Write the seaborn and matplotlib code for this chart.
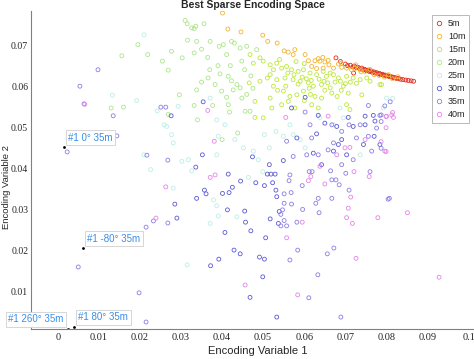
import matplotlib
matplotlib.use('Agg')
import matplotlib.pyplot as plt
import seaborn as sns
import pandas as pd
from matplotlib.lines import Line2D

# --- data (Encoding Variable 1, Encoding Variable 2) ---
groups = ['5m', '10m', '15m', '20m', '25m', '30m', '35m', '40m']
colors = ['#e02a1a', '#f4b430', '#bde83a', '#ace68c', '#bdeee8', '#5a5ad4', '#8c7ee4', '#e486e8']

pts_5m = [(0.0677, 0.0669), (0.0688, 0.0660), (0.0700, 0.0654), (0.0705, 0.0650), (0.0712, 0.0651),
          (0.0718, 0.0647), (0.0722, 0.0649), (0.0727, 0.0645), (0.0731, 0.0646), (0.0735, 0.0642),
          (0.0740, 0.0644), (0.0743, 0.0640), (0.0747, 0.0641), (0.0751, 0.0638), (0.0755, 0.0639),
          (0.0758, 0.0636), (0.0762, 0.0637), (0.0765, 0.0634), (0.0769, 0.0635), (0.0772, 0.0632),
          (0.0776, 0.0633), (0.0779, 0.0630), (0.0783, 0.0631), (0.0786, 0.0628), (0.0790, 0.0629),
          (0.0793, 0.0627), (0.0797, 0.0627), (0.0800, 0.0625), (0.0804, 0.0625), (0.0808, 0.0623),
          (0.0812, 0.0623), (0.0816, 0.0621), (0.0820, 0.0621), (0.0824, 0.0619), (0.0829, 0.0619),
          (0.0834, 0.0617), (0.0840, 0.0616), (0.0847, 0.0615), (0.0853, 0.0614), (0.0860, 0.0613),
          (0.0866, 0.0612), (0.0720, 0.0632)]

pts_10m = [(0.0401, 0.0778), (0.0414, 0.0739), (0.0446, 0.0732), (0.0499, 0.0724), (0.0511, 0.0709),
           (0.0534, 0.0705), (0.0551, 0.0686), (0.0561, 0.0683), (0.0577, 0.0689), (0.0573, 0.0677),
           (0.0602, 0.0677), (0.0610, 0.0662), (0.0626, 0.0662), (0.0634, 0.0667), (0.0638, 0.0661),
           (0.0650, 0.0659), (0.0658, 0.0663), (0.0683, 0.0654), (0.0671, 0.0644), (0.0691, 0.0646),
           (0.0703, 0.0644), (0.0715, 0.0640), (0.0723, 0.0643), (0.0736, 0.0640), (0.0748, 0.0636),
           (0.0618, 0.0648), (0.0630, 0.0643), (0.0646, 0.0644), (0.0725, 0.0652), (0.0738, 0.0635),
           (0.0760, 0.0641), (0.0770, 0.0628), (0.0782, 0.0626), (0.0795, 0.0622), (0.0805, 0.0628),
           (0.0815, 0.0618), (0.0828, 0.0623), (0.0660, 0.0652), (0.0645, 0.0670), (0.0690, 0.0656)]

pts_15m = [(0.0545, 0.0644), (0.0557, 0.0648), (0.0569, 0.0640), (0.0585, 0.0636), (0.0598, 0.0640),
           (0.0614, 0.0632), (0.0630, 0.0628), (0.0646, 0.0636), (0.0654, 0.0624), (0.0663, 0.0632),
           (0.0671, 0.0628), (0.0683, 0.0620), (0.0703, 0.0624), (0.0719, 0.0620), (0.0736, 0.0616),
           (0.0752, 0.0620), (0.0760, 0.0612), (0.0784, 0.0604), (0.0553, 0.0620), (0.0573, 0.0616),
           (0.0590, 0.0612), (0.0610, 0.0608), (0.0622, 0.0600), (0.0642, 0.0604), (0.0663, 0.0596),
           (0.0695, 0.0600), (0.0707, 0.0583), (0.0740, 0.0579), (0.0549, 0.0588), (0.0565, 0.0575),
           (0.0582, 0.0579), (0.0598, 0.0588), (0.0626, 0.0575), (0.0642, 0.0571), (0.0667, 0.0583),
           (0.0545, 0.0555), (0.0561, 0.0563), (0.0577, 0.0547), (0.0618, 0.0555), (0.0634, 0.0547),
           (0.0703, 0.0555), (0.0711, 0.0543), (0.0788, 0.0604), (0.0468, 0.0677), (0.0492, 0.0669),
           (0.0476, 0.0656), (0.0500, 0.0661), (0.0517, 0.0652), (0.0533, 0.0656), (0.0466, 0.0608),
           (0.0492, 0.0612), (0.0517, 0.0628), (0.0525, 0.0600), (0.0533, 0.0616), (0.0480, 0.0563),
           (0.0517, 0.0571), (0.0521, 0.0547), (0.0500, 0.0523), (0.0480, 0.0524),
           (0.0575, 0.0628), (0.0595, 0.0622), (0.0605, 0.0618), (0.0617, 0.0614), (0.0636, 0.0617),
           (0.0648, 0.0612), (0.0657, 0.0608), (0.0675, 0.0610), (0.0688, 0.0612), (0.0700, 0.0606),
           (0.0712, 0.0610), (0.0727, 0.0607), (0.0560, 0.0632), (0.0585, 0.0605), (0.0612, 0.0595),
           (0.0650, 0.0590), (0.0580, 0.0660), (0.0600, 0.0655), (0.0540, 0.0665), (0.0525, 0.0640),
           (0.0510, 0.0620), (0.0535, 0.0590), (0.0555, 0.0600), (0.0600, 0.0565), (0.0615, 0.0580),
           (0.0680, 0.0575), (0.0690, 0.0590)]

pts_20m = [(0.0310, 0.0760), (0.0315, 0.0752), (0.0326, 0.0742), (0.0336, 0.0746), (0.0332, 0.0740),
           (0.0356, 0.0752), (0.0316, 0.0712), (0.0338, 0.0709), (0.0371, 0.0709), (0.0303, 0.0669),
           (0.0332, 0.0681), (0.0393, 0.0697), (0.0403, 0.0701), (0.0423, 0.0709), (0.0430, 0.0705),
           (0.0411, 0.0677), (0.0444, 0.0693), (0.0460, 0.0697), (0.0484, 0.0689), (0.0448, 0.0661),
           (0.0277, 0.0685), (0.0366, 0.0620), (0.0415, 0.0624), (0.0423, 0.0613), (0.0436, 0.0604),
           (0.0444, 0.0596), (0.0383, 0.0604), (0.0399, 0.0588), (0.0338, 0.0591), (0.0296, 0.0579),
           (0.0427, 0.0591), (0.0448, 0.0571), (0.0411, 0.0573), (0.0332, 0.0553), (0.0377, 0.0553),
           (0.0415, 0.0555), (0.0418, 0.0537), (0.0456, 0.0539), (0.0468, 0.0539), (0.0340, 0.0518),
           (0.0438, 0.0486), (0.0400, 0.0470), (0.0195, 0.0701), (0.0156, 0.0674), (0.0219, 0.0677),
           (0.0255, 0.0661), (0.0269, 0.0639), (0.0130, 0.0547), (0.0160, 0.0549), (0.0269, 0.0531),
           (0.0350, 0.0690), (0.0365, 0.0670), (0.0390, 0.0650), (0.0420, 0.0650), (0.0455, 0.0640),
           (0.0470, 0.0625), (0.0370, 0.0640), (0.0395, 0.0630), (0.0350, 0.0610), (0.0460, 0.0580),
           (0.0475, 0.0595)]

pts_25m = [(0.0293, 0.0551), (0.0371, 0.0571), (0.0387, 0.0518), (0.0407, 0.0506), (0.0281, 0.0462),
           (0.0302, 0.0417), (0.0318, 0.0421), (0.0391, 0.0478), (0.0431, 0.0470), (0.0452, 0.0450),
           (0.0476, 0.0442), (0.0503, 0.0482), (0.0515, 0.0450), (0.0531, 0.0490), (0.0488, 0.0421),
           (0.0277, 0.0482), (0.0387, 0.0433), (0.0687, 0.0547), (0.0695, 0.0523), (0.0671, 0.0506),
           (0.0565, 0.0506), (0.0573, 0.0482), (0.0549, 0.0478), (0.0590, 0.0470), (0.0602, 0.0450),
           (0.0638, 0.0523), (0.0736, 0.0433), (0.0800, 0.0571), (0.0792, 0.0547), (0.0281, 0.0352),
           (0.0379, 0.0323), (0.0387, 0.0309), (0.0371, 0.0266), (0.0391, 0.0284), (0.0436, 0.0282),
           (0.0315, 0.0165), (0.0464, 0.0378), (0.0499, 0.0392), (0.0326, 0.0394), (0.0210, 0.0725),
           (0.0133, 0.0578), (0.0192, 0.0565), (0.0242, 0.0540), (0.0259, 0.0506), (0.0265, 0.0502),
           (0.0210, 0.0433), (0.0226, 0.0397), (0.0815, 0.0570)]

pts_30m = [(0.0354, 0.0562), (0.0474, 0.0428), (0.0515, 0.0409), (0.0352, 0.0433), (0.0336, 0.0403),
           (0.0276, 0.0528), (0.0285, 0.0313), (0.0290, 0.0279), (0.0338, 0.0327), (0.0357, 0.0347),
           (0.0361, 0.0338), (0.0401, 0.0339), (0.0417, 0.0341), (0.0425, 0.0354), (0.0415, 0.0386),
           (0.0445, 0.0369), (0.0482, 0.0365), (0.0503, 0.0358), (0.0510, 0.0386), (0.0519, 0.0386),
           (0.0529, 0.0386), (0.0523, 0.0365), (0.0531, 0.0347), (0.0533, 0.0331), (0.0413, 0.0299),
           (0.0455, 0.0296), (0.0407, 0.0244), (0.0457, 0.0269), (0.0470, 0.0248), (0.0517, 0.0277),
           (0.0506, 0.0231), (0.0429, 0.0201), (0.0444, 0.0192), (0.0392, 0.0179), (0.0372, 0.0163),
           (0.0491, 0.0184), (0.0503, 0.0179), (0.0499, 0.0136), (0.0468, 0.0086), (0.0533, 0.0038),
           (0.0539, 0.0295), (0.0537, 0.0266), (0.0602, 0.0573), (0.0569, 0.0547), (0.0634, 0.0529),
           (0.0650, 0.0510), (0.0679, 0.0502), (0.0707, 0.0524), (0.0719, 0.0502), (0.0748, 0.0527),
           (0.0768, 0.0529), (0.0772, 0.0515), (0.0748, 0.0506), (0.0770, 0.0478), (0.0691, 0.0470),
           (0.0683, 0.0458), (0.0671, 0.0442), (0.0622, 0.0437), (0.0630, 0.0484), (0.0582, 0.0474),
           (0.0549, 0.0419), (0.0703, 0.0433), (0.0744, 0.0458), (0.0784, 0.0458), (0.0642, 0.0409)]

pts_35m = [(0.0098, 0.0640), (0.0054, 0.0600), (0.0064, 0.0557), (0.0135, 0.0528), (0.0144, 0.0479),
           (0.0023, 0.0440), (0.0217, 0.0432), (0.0268, 0.0420), (0.0251, 0.0549), (0.0263, 0.0549),
           (0.0215, 0.0257), (0.0233, 0.0272), (0.0050, 0.0160), (0.0198, 0.0097), (0.0215, 0.0026),
           (0.0268, 0.0267), (0.0602, 0.0537), (0.0614, 0.0506), (0.0667, 0.0506), (0.0691, 0.0490),
           (0.0709, 0.0506), (0.0736, 0.0506), (0.0756, 0.0553), (0.0784, 0.0529), (0.0776, 0.0498),
           (0.0756, 0.0478), (0.0727, 0.0474), (0.0671, 0.0462), (0.0658, 0.0445), (0.0634, 0.0433),
           (0.0606, 0.0433), (0.0618, 0.0474), (0.0557, 0.0466), (0.0573, 0.0429), (0.0719, 0.0421),
           (0.0764, 0.0442), (0.0691, 0.0409), (0.0809, 0.0562), (0.0796, 0.0552), (0.0787, 0.0530),
           (0.0787, 0.0514), (0.0787, 0.0449), (0.0807, 0.0327), (0.0565, 0.0384), (0.0563, 0.0370),
           (0.0551, 0.0338), (0.0568, 0.0341), (0.0595, 0.0358), (0.0612, 0.0392), (0.0619, 0.0392),
           (0.0551, 0.0315), (0.0569, 0.0313), (0.0547, 0.0299), (0.0543, 0.0288), (0.0551, 0.0273),
           (0.0543, 0.0260), (0.0557, 0.0260), (0.0582, 0.0269), (0.0596, 0.0300), (0.0628, 0.0315),
           (0.0636, 0.0292), (0.0634, 0.0327), (0.0667, 0.0327), (0.0667, 0.0372), (0.0677, 0.0372),
           (0.0685, 0.0360), (0.0701, 0.0388), (0.0664, 0.0394), (0.0709, 0.0347), (0.0760, 0.0392),
           (0.0804, 0.0325), (0.0584, 0.0201), (0.0565, 0.0177), (0.0656, 0.0192), (0.0672, 0.0206),
           (0.0633, 0.0141), (0.0611, 0.0085), (0.0689, 0.0038)]

pts_40m = [(0.0066, 0.0556), (0.0239, 0.0279), (0.0263, 0.0355), (0.0365, 0.0541), (0.0381, 0.0466),
           (0.0555, 0.0524), (0.0658, 0.0527), (0.0800, 0.0527), (0.0796, 0.0442), (0.0699, 0.0450),
           (0.0711, 0.0451), (0.0748, 0.0470), (0.0679, 0.0433), (0.0638, 0.0405), (0.0799, 0.0526),
           (0.0815, 0.0536), (0.0813, 0.0530), (0.0817, 0.0524), (0.0799, 0.0499), (0.0787, 0.0465),
           (0.0799, 0.0441), (0.0371, 0.0378), (0.0383, 0.0384), (0.0456, 0.0116), (0.0616, 0.0380),
           (0.0610, 0.0370), (0.0650, 0.0362), (0.0721, 0.0392), (0.0758, 0.0380), (0.0713, 0.0330),
           (0.0707, 0.0303), (0.0703, 0.0280), (0.0717, 0.0266), (0.0779, 0.0280), (0.0595, 0.0269),
           (0.0557, 0.0231), (0.0726, 0.0181), (0.0584, 0.0092), (0.0851, 0.0292), (0.0928, 0.0135)]

# labelled samples (black dots)
ann_x = [0.0016, 0.0062, 0.0040, 0.0025]
ann_y = [0.0452, 0.0206, 0.0015, 0.0010]
ann_labels = ['#1 0° 35m', '#1 -80° 35m', '#1 80° 35m', '#1 260° 35m']

xticks = [0, 0.01, 0.02, 0.03, 0.04, 0.05, 0.06, 0.07, 0.08, 0.09, 0.1]
xtick_labels = ['0', '0.01', '0.02', '0.03', '0.04', '0.05', '0.06', '0.07', '0.08', '0.09', '0.1']
yticks = [0.01, 0.02, 0.03, 0.04, 0.05, 0.06, 0.07]
ytick_labels = ['0.01', '0.02', '0.03', '0.04', '0.05', '0.06', '0.07']

all_pts = [pts_5m, pts_10m, pts_15m, pts_20m, pts_25m, pts_30m, pts_35m, pts_40m]
frames = []
for name, pts in zip(groups, all_pts):
    d = pd.DataFrame(pts, columns=['x', 'y'])
    d['dist'] = name
    frames.append(d)
df = pd.concat(frames, ignore_index=True)

sns.set_theme(style='white')
plt.rcParams['font.family'] = ['Liberation Sans', 'DejaVu Sans']

fig = plt.figure(figsize=(4.74, 3.59), dpi=100)
ax = fig.add_axes([31 / 474, 1 - 329 / 359, 443 / 474, 318 / 359])

sns.scatterplot(data=df, x='x', y='y', hue='dist', hue_order=groups, palette=colors,
                marker='o', s=8, linewidth=0.6, legend=False, ax=ax)
# open circles
coll = ax.collections[0]
coll.set_edgecolors(coll.get_facecolors())
coll.set_facecolors('none')

sns.scatterplot(x=ann_x, y=ann_y, color='black', s=4, linewidth=0, ax=ax)

txt_color = '#3a8ee6'
box = dict(boxstyle='square,pad=0.25', fc='white', ec='#d0d0d0', lw=0.6)
for xv, yv, lab in zip(ann_x, ann_y, ann_labels):
    if '260' in lab:
        ax.annotate(lab, (xv, yv), xytext=(-3, 3), textcoords='offset points', ha='right',
                    va='bottom', fontsize=7, color=txt_color, bbox=box, annotation_clip=False)
    else:
        ax.annotate(lab, (xv, yv), xytext=(3, 3), textcoords='offset points', ha='left',
                    va='bottom', fontsize=7, color=txt_color, bbox=box, annotation_clip=False)

ax.set_xlim(-0.0065, 0.1013)
ax.set_ylim(0.0009, 0.0783)
ax.set_xticks(xticks, xtick_labels, fontfamily='Liberation Serif', fontsize=7.5)
ax.set_yticks(yticks, ytick_labels, fontfamily='Liberation Serif', fontsize=7)
ax.tick_params(direction='in', length=3, width=0.6, color='#808080', pad=3)
ax.tick_params(axis='y', pad=2)
for s in ['top', 'right']:
    ax.spines[s].set_visible(False)
for s in ['left', 'bottom']:
    ax.spines[s].set_color('#808080')
    ax.spines[s].set_linewidth(0.8)

ax.set_title('Best Sparse Encoding Space', fontsize=7.5, fontweight='bold', pad=2)
ax.set_xlabel('Encoding Variable 1', fontsize=8)
ax.set_ylabel('Encoding Variable 2', fontsize=6.8)
ax.xaxis.set_label_coords(0.512, -0.055)
ax.yaxis.set_label_coords(-0.0455, 0.445)

handles = [Line2D([], [], marker='o', ls='none', mfc='none', mec=c, ms=3.2, mew=0.6) for c in colors]
leg = ax.legend(handles, groups, loc='upper right', bbox_to_anchor=(0.9887, 0.987), borderaxespad=0,
                fontsize=6.5, frameon=True, fancybox=False, edgecolor='#9a9a9a',
                handlelength=0.8, handletextpad=0.6, labelspacing=0.45, borderpad=0.4)
leg.get_frame().set_linewidth(0.6)

fig.savefig('out.png', dpi=100)
